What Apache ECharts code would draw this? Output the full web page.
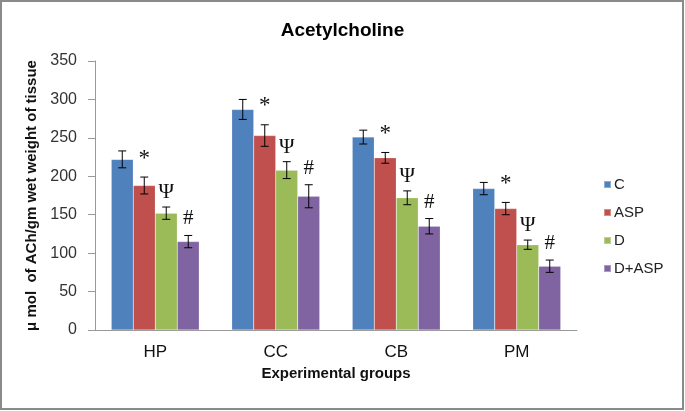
<!DOCTYPE html>
<html>
<head>
<meta charset="utf-8">
<script src="https://cdn.jsdelivr.net/npm/echarts@6/dist/echarts.min.js"></script>
<style>
html,body{margin:0;padding:0;background:#fff;}
#chart{width:685px;height:411px;}
</style>
</head>
<body>
<div id="chart"></div>
<script>
const categories = ['HP', 'CC', 'CB', 'PM'];
const seriesNames = ['C', 'ASP', 'D', 'D+ASP'];
const valC = [222, 287, 251, 184];
const valASP = [188, 253, 224, 158];
const valD = [152, 208, 172, 111];
const valDASP = [115, 174, 135, 83];
const errC = [11, 13, 9, 8];
const errASP = [11, 14, 7, 8];
const errD = [8, 11, 9, 6];
const errDASP = [8, 15, 10, 8];
const marks = ['', '*', 'Ψ', '#'];
const yTicks = [0, 50, 100, 150, 200, 250, 300, 350];

const colors = ['#4F81BD', '#C0504D', '#9BBB59', '#8064A2'];
const values = [valC, valASP, valD, valDASP];
const errors = [errC, errASP, errD, errDASP];
const GAP = 0.27;
const N = seriesNames.length;
const markFont = ['', '23px', '21px', '21px'];
const markLift = [0, 7, 4, 6];

const chart = echarts.init(document.getElementById('chart'));

const barSeries = seriesNames.map((name, si) => ({
  name: name,
  type: 'bar',
  data: values[si],
  barGap: '0%',
  barCategoryGap: (GAP * 100) + '%',
  itemStyle: { color: colors[si], borderColor: 'rgba(255,255,255,0.35)', borderWidth: 0.5 },
  z: 2
}));

const errSeries = seriesNames.map((name, si) => ({
  name: name + '_err',
  type: 'custom',
  z: 5,
  silent: true,
  data: categories.map((c, ci) => [ci, values[si][ci], errors[si][ci]]),
  encode: { x: 0, y: 1 },
  renderItem: function (params, api) {
    const ci = api.value(0), v = api.value(1), e = api.value(2);
    const mid = api.coord([ci, v]);
    const hi = api.coord([ci, v + e]);
    const lo = api.coord([ci, v - e]);
    const band = api.size([1, 0])[0];
    const bw = band * (1 - GAP) / N;
    const x = mid[0] - (N / 2) * bw + (si + 0.5) * bw;
    const cap = 4;
    const st = { stroke: '#000', lineWidth: 1 };
    const children = [
      { type: 'line', shape: { x1: x, y1: hi[1], x2: x, y2: lo[1] }, style: st },
      { type: 'line', shape: { x1: x - cap, y1: hi[1], x2: x + cap, y2: hi[1] }, style: st },
      { type: 'line', shape: { x1: x - cap, y1: lo[1], x2: x + cap, y2: lo[1] }, style: st }
    ];
    if (marks[si]) {
      children.push({
        type: 'text',
        style: {
          text: marks[si],
          x: x,
          y: hi[1] - markLift[si],
          textAlign: 'center',
          textVerticalAlign: 'bottom',
          fill: '#111',
          font: markFont[si] + ' "Liberation Serif", serif'
        }
      });
    }
    return { type: 'group', children: children };
  }
}));

chart.setOption({
  animation: false,
  backgroundColor: '#fff',
  textStyle: { fontFamily: '"Liberation Sans", Arial, sans-serif' },
  title: {
    text: 'Acetylcholine',
    left: 'center',
    top: 16,
    textStyle: { fontSize: 19, fontWeight: 'bold', color: '#000', fontFamily: '"Liberation Sans", Arial, sans-serif' }
  },
  legend: {
    data: seriesNames,
    orient: 'vertical',
    left: 598,
    top: 171,
    itemWidth: 7,
    itemHeight: 7,
    itemGap: 11,
    icon: 'rect',
    textStyle: { fontSize: 15, color: '#222', padding: [0, 0, 0, -2], lineHeight: 17 }
  },
  grid: { left: 95, right: 108, top: 61, bottom: 81, containLabel: false },
  xAxis: {
    type: 'category',
    data: categories,
    axisLine: { lineStyle: { color: '#999', width: 1 } },
    axisTick: { show: false },
    axisLabel: { fontSize: 17, color: '#111', margin: 14 },
    name: 'Experimental groups',
    nameLocation: 'middle',
    nameGap: 35,
    nameTextStyle: { fontSize: 15, fontWeight: 'bold', color: '#111' }
  },
  yAxis: {
    type: 'value',
    min: yTicks[0],
    max: yTicks[yTicks.length - 1],
    interval: yTicks[1] - yTicks[0],
    axisLine: { show: true, lineStyle: { color: '#999', width: 1 } },
    axisTick: { show: true, length: 7, lineStyle: { color: '#999' } },
    splitLine: { show: false },
    axisLabel: { fontSize: 16, color: '#333', margin: 18 },
    name: 'μ mol  of ACh/gm wet weight of tissue',
    nameLocation: 'middle',
    nameGap: 55,
    nameTextStyle: { fontSize: 15, fontWeight: 'bold', color: '#111' }
  },
  graphic: [{
    type: 'rect',
    shape: { x: 1, y: 1, width: 682, height: 408 },
    style: { fill: 'none', stroke: '#8a8a8a', lineWidth: 2 },
    silent: true,
    z: 100
  }],
  series: barSeries.concat(errSeries)
});
</script>
</body>
</html>
